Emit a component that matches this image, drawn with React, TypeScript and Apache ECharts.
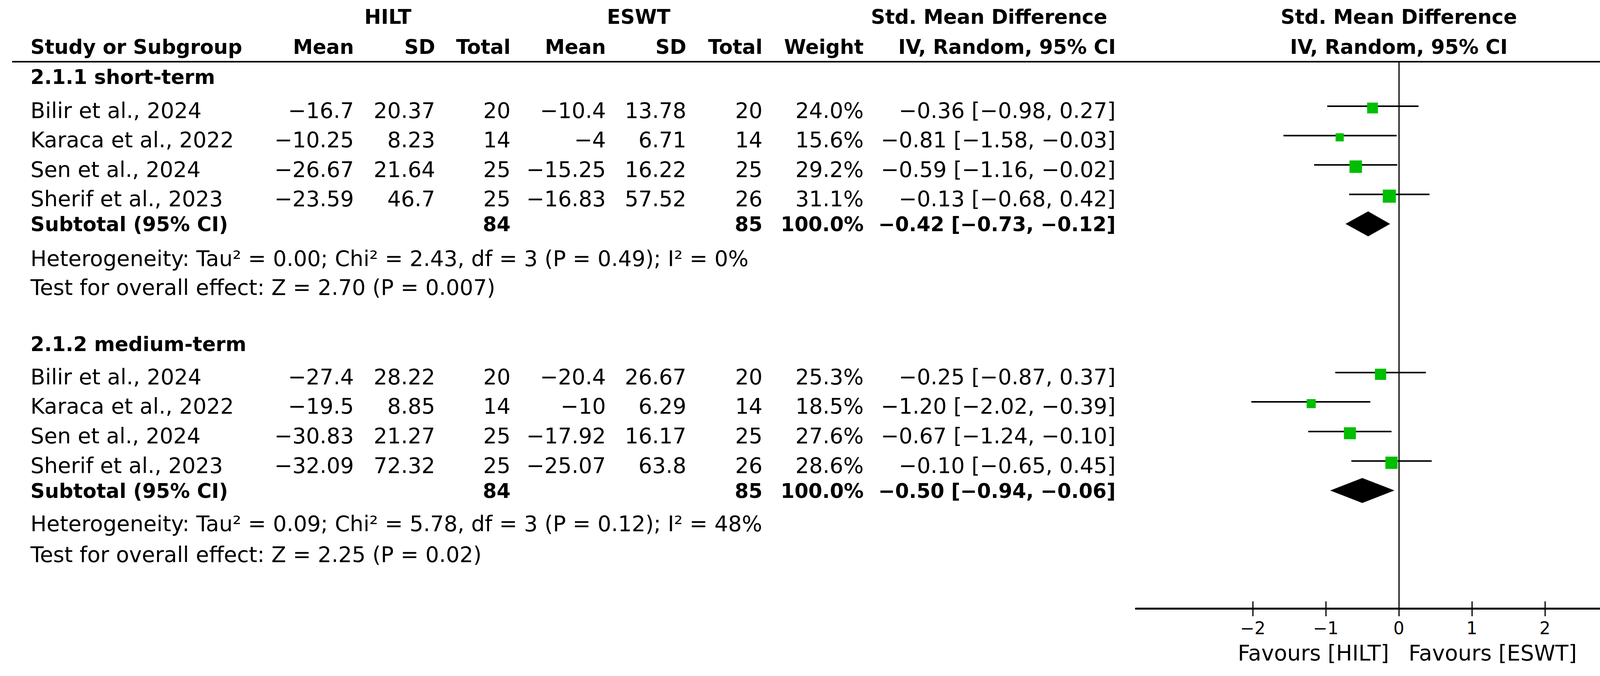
import React, { useEffect, useRef } from "react";
import * as echarts from "echarts";

// ---------- data ----------
const studyNames = ["Bilir et al., 2024", "Karaca et al., 2022", "Sen et al., 2024", "Sherif et al., 2023"];

// 2.1.1 short-term
const hiltMeanShort = [-16.7, -10.25, -26.67, -23.59];
const hiltSdShort = [20.37, 8.23, 21.64, 46.7];
const hiltNShort = [20, 14, 25, 25];
const eswtMeanShort = [-10.4, -4, -15.25, -16.83];
const eswtSdShort = [13.78, 6.71, 16.22, 57.52];
const eswtNShort = [20, 14, 25, 26];
const weightShort = [24.0, 15.6, 29.2, 31.1];
const smdShort = [-0.36, -0.81, -0.59, -0.13];
const loShort = [-0.98, -1.58, -1.16, -0.68];
const hiShort = [0.27, -0.03, -0.02, 0.42];
const subtotalShort = { hiltN: 84, eswtN: 85, weight: 100.0, smd: -0.42, lo: -0.73, hi: -0.12 };
const hetShort = "Heterogeneity: Tau\u00B2 = 0.00; Chi\u00B2 = 2.43, df = 3 (P = 0.49); I\u00B2 = 0%";
const testShort = "Test for overall effect: Z = 2.70 (P = 0.007)";

// 2.1.2 medium-term
const hiltMeanMed = [-27.4, -19.5, -30.83, -32.09];
const hiltSdMed = [28.22, 8.85, 21.27, 72.32];
const hiltNMed = [20, 14, 25, 25];
const eswtMeanMed = [-20.4, -10, -17.92, -25.07];
const eswtSdMed = [26.67, 6.29, 16.17, 63.8];
const eswtNMed = [20, 14, 25, 26];
const weightMed = [25.3, 18.5, 27.6, 28.6];
const smdMed = [-0.25, -1.2, -0.67, -0.1];
const loMed = [-0.87, -2.02, -1.24, -0.65];
const hiMed = [0.37, -0.39, -0.1, 0.45];
const subtotalMed = { hiltN: 84, eswtN: 85, weight: 100.0, smd: -0.5, lo: -0.94, hi: -0.06 };
const hetMed = "Heterogeneity: Tau\u00B2 = 0.09; Chi\u00B2 = 5.78, df = 3 (P = 0.12); I\u00B2 = 48%";
const testMed = "Test for overall effect: Z = 2.25 (P = 0.02)";

const sectionTitles = ["2.1.1 short-term", "2.1.2 medium-term"];
const xTicks = [-2, -1, 0, 1, 2];
const favoursLeft = "Favours [HILT]";
const favoursRight = "Favours [ESWT]";

// ---------- layout ----------
const W = 4339;
const H = 1731;
const FONT = "DejaVu Sans";
const GREEN = "#00BE00";
const GRID = { left: 2908, right: 85, top: 158, bottom: 173 };
const X_MIN = -3.6;
const X_MAX = 3.6;
const Y_MIN = -0.49;
const Y_MAX = 18.05;
const COL = { name: 78, hMean: 906, hSd: 1114, hN: 1307, eMean: 1551, eSd: 1757, eN: 1952, weight: 2211, ci: 2856 };
const HEAD = { hilt: 993, eswt: 1635, smd1: 2532, smd2: 2578, lineX1: 31, lineX2: 4306 };
const ROW = {
  head1: -2.0,
  head2: -0.98,
  sect: [0.03, 9.09],
  studies: [
    [1.17, 2.165, 3.16, 4.16],
    [10.2, 11.195, 12.2, 13.2],
  ],
  sub: [5.03, 14.07],
  het: [6.18, 15.18],
  test: [7.17, 16.22],
  favours: 19.56,
};
const CI_SHIFT = -0.15;
const SQ_SHIFT = -0.09;
const DIAMOND_SHIFT = -0.02;
const FS = 55;
const FS_BOLD = 51;

const num = (v: number) => (v < 0 ? "\u2212" : "") + String(Math.abs(v));
const f2 = (v: number) => (v < 0 ? "\u2212" : "") + Math.abs(v).toFixed(2);
const ciText = (m: number, l: number, h: number) => `${f2(m)} [${f2(l)}, ${f2(h)}]`;

export default function App() {
  const ref = useRef<HTMLDivElement>(null);

  useEffect(() => {
    if (!ref.current) return;
    const chart = echarts.init(ref.current, null, { renderer: "svg", width: W, height: H });

    const groups = [
      { lo: loShort, hi: hiShort, smd: smdShort, w: weightShort, sub: subtotalShort },
      { lo: loMed, hi: hiMed, smd: smdMed, w: weightMed, sub: subtotalMed },
    ];

    const ciData: number[][] = [];
    const diamondData: number[][] = [];
    groups.forEach((g, gi) => {
      g.smd.forEach((m, i) => {
        const r = ROW.studies[gi][i];
        ciData.push([g.lo[i], g.hi[i], m, r + CI_SHIFT, r + SQ_SHIFT, g.w[i]]);
      });
      diamondData.push([g.sub.lo, g.sub.hi, g.sub.smd, ROW.sub[gi] + DIAMOND_SHIFT]);
    });

    const tickFmt = (v: number) => (v < 0 ? "\u2212" + Math.abs(v) : String(v));

    chart.setOption({
      animation: false,
      grid: { left: GRID.left, right: GRID.right, top: GRID.top, bottom: GRID.bottom, containLabel: false },
      xAxis: [
        {
          type: "value",
          min: X_MIN,
          max: X_MAX,
          position: "bottom",
          axisLine: { show: true, onZero: false, lineStyle: { color: "#000", width: 5 } },
          axisTick: { show: true, customValues: xTicks, length: 20, lineStyle: { color: "#000", width: 3 } },
          axisLabel: {
            show: true,
            customValues: xTicks,
            formatter: tickFmt,
            fontFamily: FONT,
            fontSize: 44,
            color: "#000",
            margin: 28,
          },
          splitLine: { show: false },
        },
        {
          type: "value",
          min: X_MIN,
          max: X_MAX,
          position: "bottom",
          axisLine: { show: false, onZero: false },
          axisTick: { show: true, inside: true, customValues: xTicks, length: 18, lineStyle: { color: "#000", width: 3 } },
          axisLabel: { show: false },
          splitLine: { show: false },
        },
      ],
      yAxis: {
        type: "value",
        min: Y_MIN,
        max: Y_MAX,
        inverse: true,
        show: false,
        axisLine: { show: false },
        axisTick: { show: false },
        axisLabel: { show: false },
        splitLine: { show: false },
      },
      series: [
        {
          type: "custom",
          name: "studies",
          xAxisIndex: 0,
          yAxisIndex: 0,
          clip: false,
          silent: true,
          encode: { x: [0, 1, 2], y: [3, 4] },
          data: ciData,
          renderItem: (params: any, api: any) => {
            const a = api.coord([api.value(0), api.value(3)]);
            const b = api.coord([api.value(1), api.value(3)]);
            const c = api.coord([api.value(2), api.value(4)]);
            const s = 8 + 0.82 * api.value(5);
            return {
              type: "group",
              children: [
                { type: "line", shape: { x1: a[0], y1: a[1], x2: b[0], y2: b[1] }, style: { stroke: "#000", lineWidth: 4 } },
                { type: "rect", shape: { x: c[0] - s / 2, y: c[1] - s / 2, width: s, height: s }, style: { fill: GREEN } },
              ],
            };
          },
          markLine: {
            silent: true,
            symbol: ["none", "none"],
            label: { show: false },
            lineStyle: { color: "#000", width: 3, type: "solid" },
            data: [{ xAxis: 0 }],
            z: 10,
          },
        },
        {
          type: "custom",
          name: "subtotals",
          xAxisIndex: 0,
          yAxisIndex: 0,
          clip: false,
          silent: true,
          encode: { x: [0, 1, 2], y: 3 },
          data: diamondData,
          renderItem: (params: any, api: any) => {
            const a = api.coord([api.value(0), api.value(3)]);
            const b = api.coord([api.value(1), api.value(3)]);
            const c = api.coord([api.value(2), api.value(3)]);
            const h = 32;
            return {
              type: "polygon",
              shape: { points: [[a[0], a[1]], [c[0], c[1] - h], [b[0], b[1]], [c[0], c[1] + h]] },
              style: { fill: "#000" },
            };
          },
        },
      ],
    });

    const yPx = (r: number) => chart.convertToPixel({ yAxisIndex: 0 }, r) as number;
    const xPx = (v: number) => chart.convertToPixel({ xAxisIndex: 0 }, v) as number;

    const els: any[] = [];
    const txt = (text: string, x: number, r: number, align: string, bold = false) => {
      els.push({
        type: "text",
        x,
        y: yPx(r),
        silent: true,
        style: {
          text,
          fontFamily: FONT,
          fontSize: bold ? FS_BOLD : FS,
          fontWeight: bold ? "bold" : "normal",
          fill: "#000",
          align,
          verticalAlign: "middle",
          textAlign: align,
          textVerticalAlign: "middle",
        },
      });
    };

    // headers
    txt("HILT", HEAD.hilt, ROW.head1, "center", true);
    txt("ESWT", HEAD.eswt, ROW.head1, "center", true);
    txt("Std. Mean Difference", HEAD.smd1, ROW.head1, "center", true);
    txt("Std. Mean Difference", xPx(0), ROW.head1, "center", true);
    txt("Study or Subgroup", COL.name, ROW.head2, "left", true);
    txt("Mean", COL.hMean, ROW.head2, "right", true);
    txt("SD", COL.hSd, ROW.head2, "right", true);
    txt("Total", COL.hN, ROW.head2, "right", true);
    txt("Mean", COL.eMean, ROW.head2, "right", true);
    txt("SD", COL.eSd, ROW.head2, "right", true);
    txt("Total", COL.eN, ROW.head2, "right", true);
    txt("Weight", COL.weight, ROW.head2, "right", true);
    txt("IV, Random, 95% CI", HEAD.smd2, ROW.head2, "center", true);
    txt("IV, Random, 95% CI", xPx(0), ROW.head2, "center", true);

    const tables = [
      {
        hm: hiltMeanShort, hs: hiltSdShort, hn: hiltNShort, em: eswtMeanShort, es: eswtSdShort, en: eswtNShort,
        w: weightShort, smd: smdShort, lo: loShort, hi: hiShort, sub: subtotalShort, het: hetShort, test: testShort,
      },
      {
        hm: hiltMeanMed, hs: hiltSdMed, hn: hiltNMed, em: eswtMeanMed, es: eswtSdMed, en: eswtNMed,
        w: weightMed, smd: smdMed, lo: loMed, hi: hiMed, sub: subtotalMed, het: hetMed, test: testMed,
      },
    ];

    tables.forEach((t, gi) => {
      txt(sectionTitles[gi], COL.name, ROW.sect[gi], "left", true);
      studyNames.forEach((name, i) => {
        const r = ROW.studies[gi][i];
        txt(name, COL.name, r, "left");
        txt(num(t.hm[i]), COL.hMean, r, "right");
        txt(num(t.hs[i]), COL.hSd, r, "right");
        txt(String(t.hn[i]), COL.hN, r, "right");
        txt(num(t.em[i]), COL.eMean, r, "right");
        txt(num(t.es[i]), COL.eSd, r, "right");
        txt(String(t.en[i]), COL.eN, r, "right");
        txt(t.w[i].toFixed(1) + "%", COL.weight, r, "right");
        txt(ciText(t.smd[i], t.lo[i], t.hi[i]), COL.ci, r, "right");
      });
      const rs = ROW.sub[gi];
      txt("Subtotal (95% CI)", COL.name, rs, "left", true);
      txt(String(t.sub.hiltN), COL.hN, rs, "right", true);
      txt(String(t.sub.eswtN), COL.eN, rs, "right", true);
      txt(t.sub.weight.toFixed(1) + "%", COL.weight, rs, "right", true);
      txt(ciText(t.sub.smd, t.sub.lo, t.sub.hi), COL.ci, rs, "right", true);
      txt(t.het, COL.name, ROW.het[gi], "left");
      txt(t.test, COL.name, ROW.test[gi], "left");
    });

    txt(favoursLeft, xPx(0) - 25, ROW.favours, "right");
    txt(favoursRight, xPx(0) + 25, ROW.favours, "left");

    const yTop = yPx(Y_MIN);
    els.push({
      type: "line",
      silent: true,
      shape: { x1: HEAD.lineX1, y1: yTop, x2: HEAD.lineX2, y2: yTop },
      style: { stroke: "#000", lineWidth: 4 },
    });

    chart.setOption({ graphic: { elements: els } });

    return () => chart.dispose();
  }, []);

  return (
    <div
      ref={ref}
      style={{ position: "fixed", left: 0, top: 0, width: W, height: H, background: "#fff" }}
    />
  );
}
